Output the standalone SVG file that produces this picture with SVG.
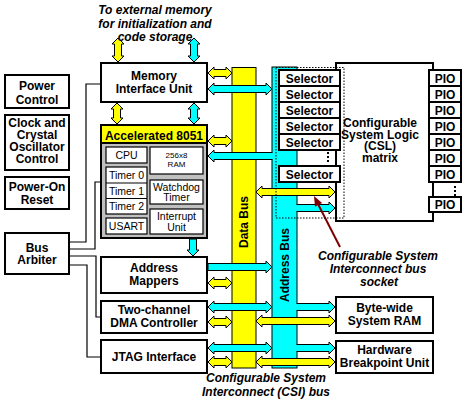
<svg xmlns="http://www.w3.org/2000/svg" width="465" height="403" viewBox="0 0 465 403">
<style>
.box{fill:#fff;stroke:#000;stroke-width:2}
.ibox{fill:#fff;stroke:#000;stroke-width:1.2}
.t{font-family:"Liberation Sans",Arial,sans-serif;font-weight:bold;font-size:12px;text-anchor:middle;fill:#000}
.sm{font-weight:normal;font-size:10.5px}
.xs{font-weight:normal;font-size:8px}
.it{font-style:italic}
.y{fill:#ff0;stroke:#000;stroke-width:1}
.c{fill:#0ff;stroke:#000;stroke-width:1}
.cf{fill:#0ff;stroke:none}
.ol{fill:none;stroke:#000;stroke-width:1}
.wire{fill:none;stroke:#000;stroke-width:1.2}
</style>
<rect width="465" height="403" fill="#fff"/>

<!-- buses -->
<g id="data-bus">
<rect class="y" x="232" y="67.5" width="24" height="300.5"/>
<text class="t" transform="translate(248.3,222) rotate(-90)">Data Bus</text>
</g>
<g id="address-bus">
<rect class="c" x="272" y="67" width="25" height="301"/>
<text class="t" transform="translate(289,265) rotate(-90)">Address Bus</text>
</g>

<!-- CSL matrix -->
<g id="csl">
<rect class="box" x="336" y="63" width="97" height="158"/>
<text class="t" x="380" y="126.5">Configurable</text>
<text class="t" x="380" y="138.5">System Logic</text>
<text class="t" x="380" y="150">(CSL)</text>
<text class="t" x="380" y="161.5">matrix</text>
</g>

<g id="connectors">
<!-- arbiter wires -->
<path class="wire" d="M69 242H86V84H101"/>
<path class="wire" d="M69 249H95V182H101"/>
<path class="wire" d="M69 256H96V317H101"/>
<path class="wire" d="M69 265H87V357H101"/>
<!-- vertical bus arrows -->
<path class="y" d="M118 38L124 44L121.5 44L121.5 56L124 56L118 62L112 56L114.5 56L114.5 44L112 44Z"/>
<path class="c" d="M194 38L200 44L197.5 44L197.5 56L200 56L194 62L188 56L190.5 56L190.5 44L188 44Z"/>
<path class="y" d="M117 103L123 109L120.5 109L120.5 118L123 118L117 124L111 118L113.5 118L113.5 109L111 109Z"/>
<path class="c" d="M194 103L200 109L197.5 109L197.5 118L200 118L194 124L188 118L190.5 118L190.5 109L188 109Z"/>
<path class="c" d="M189.5 239L196.5 239L196.5 250L199 250L193 256L187 250L189.5 250Z"/>
<!-- yellow to data bus -->
<path class="y" d="M208 73L214 67L214 69.5L226 69.5L226 67L232 73L226 79L226 76.5L214 76.5L214 79Z"/>
<path class="y" d="M208 141L214 135L214 137.5L226 137.5L226 135L232 141L226 147L226 144.5L214 144.5L214 147Z"/>
<path class="y" d="M208 283L214 277L214 279.5L226 279.5L226 277L232 283L226 289L226 286.5L214 286.5L214 289Z"/>
<path class="y" d="M208 322L214 316L214 318.5L226 318.5L226 316L232 322L226 328L226 325.5L214 325.5L214 328Z"/>
<path class="y" d="M208 362L214 356L214 358.5L226 358.5L226 356L232 362L226 368L226 365.5L214 365.5L214 368Z"/>
<!-- cyan to address bus -->
<path class="c" d="M208 89L214 83L214 85.5L266 85.5L266 83L272 89L266 95L266 92.5L214 92.5L214 95Z"/>
<path class="cf" d="M208 156L214 150L214 152.5L274 152.5L274 159.5L214 159.5L214 162Z"/>
<path class="ol" d="M272.5 152.5L214 152.5L214 150L208 156L214 162L214 159.5L272.5 159.5"/>
<path class="c" d="M208 263.5L266 263.5L266 261L272 267L266 273L266 270.5L208 270.5Z"/>
<path class="c" d="M208 307L214 301L214 303.5L266 303.5L266 301L272 307L266 313L266 310.5L214 310.5L214 313Z"/>
<path class="c" d="M208 348L214 342L214 344.5L266 344.5L266 342L272 348L266 354L266 351.5L214 351.5L214 354Z"/>
<!-- yellow over address bus -->
<path class="y" d="M256 192L262 186L262 188.5L329 188.5L329 186L335 192L329 198L329 195.5L262 195.5L262 198Z"/>
<path class="y" d="M256 321L262 315L262 317.5L329 317.5L329 315L335 321L329 327L329 324.5L262 324.5L262 327Z"/>
<path class="y" d="M256 362L262 356L262 358.5L329 358.5L329 356L335 362L329 368L329 365.5L262 365.5L262 368Z"/>
<!-- cyan from address bus -->
<path class="cf" d="M295 204.5L329 204.5L329 202L335 208L329 214L329 211.5L295 211.5Z"/>
<path class="ol" d="M296.5 204.5L329 204.5L329 202L335 208L329 214L329 211.5L296.5 211.5"/>
<path class="cf" d="M295 303.5L329 303.5L329 301L335 307L329 313L329 310.5L295 310.5Z"/>
<path class="ol" d="M296.5 303.5L329 303.5L329 301L335 307L329 313L329 310.5L296.5 310.5"/>
<path class="cf" d="M295 344.5L329 344.5L329 342L335 348L329 354L329 351.5L295 351.5Z"/>
<path class="ol" d="M296.5 344.5L329 344.5L329 342L335 348L329 354L329 351.5L296.5 351.5"/>
<!-- pointer -->
<line x1="340" y1="247" x2="318.5" y2="205" stroke="#800000" stroke-width="2"/>
<polygon points="314,196 322.1,203.1 315,206.7" fill="#800000"/>
</g>

<!-- dotted socket outline -->
<rect x="276" y="67.5" width="68" height="150.5" fill="none" stroke="#000" stroke-width="1" stroke-dasharray="1.5,1.5"/>

<g id="selectors">
<rect class="box" x="279" y="70" width="61" height="16"/>
<rect class="box" x="279" y="86" width="61" height="16"/>
<rect class="box" x="279" y="102" width="61" height="16"/>
<rect class="box" x="279" y="118" width="61" height="16"/>
<rect class="box" x="279" y="134" width="61" height="16"/>
<rect class="box" x="279" y="166" width="61" height="16"/>
<text class="t" x="309.5" y="82.5">Selector</text>
<text class="t" x="309.5" y="98.5">Selector</text>
<text class="t" x="309.5" y="114.5">Selector</text>
<text class="t" x="309.5" y="130.5">Selector</text>
<text class="t" x="309.5" y="146.5">Selector</text>
<text class="t" x="309.5" y="178.5">Selector</text>
<g fill="#000"><rect x="327" y="152" width="2" height="2"/><rect x="327" y="156" width="2" height="2"/><rect x="327" y="160" width="2" height="2"/></g>
</g>

<g id="pios">
<rect class="box" x="429" y="70" width="32" height="16"/>
<rect class="box" x="429" y="86" width="32" height="16"/>
<rect class="box" x="429" y="102" width="32" height="16"/>
<rect class="box" x="429" y="118" width="32" height="16"/>
<rect class="box" x="429" y="134" width="32" height="16"/>
<rect class="box" x="429" y="150" width="32" height="16"/>
<rect class="box" x="429" y="166" width="32" height="16"/>
<rect class="box" x="429" y="197" width="32" height="15"/>
<text class="t" x="445" y="82.5">PIO</text>
<text class="t" x="445" y="98.5">PIO</text>
<text class="t" x="445" y="114.5">PIO</text>
<text class="t" x="445" y="130.5">PIO</text>
<text class="t" x="445" y="146.5">PIO</text>
<text class="t" x="445" y="162.5">PIO</text>
<text class="t" x="445" y="178.5">PIO</text>
<text class="t" x="445" y="209">PIO</text>
<g fill="#000"><rect x="454" y="186" width="2" height="2"/><rect x="454" y="190" width="2" height="2"/><rect x="454" y="194" width="2" height="2"/></g>
</g>

<g id="power-control">
<rect class="box" x="5" y="75" width="64" height="33"/>
<text class="t" x="37" y="90">Power</text>
<text class="t" x="37" y="104">Control</text>
</g>
<g id="clock">
<rect class="box" x="5" y="115" width="64" height="55"/>
<text class="t" x="37" y="127">Clock and</text>
<text class="t" x="37" y="139">Crystal</text>
<text class="t" x="37" y="151">Oscillator</text>
<text class="t" x="37" y="163">Control</text>
</g>
<g id="power-on-reset">
<rect class="box" x="5" y="177" width="64" height="32"/>
<text class="t" x="37" y="191">Power-On</text>
<text class="t" x="37" y="203.5">Reset</text>
</g>
<g id="bus-arbiter">
<rect class="box" x="5" y="233" width="64" height="41"/>
<text class="t" x="37" y="251.5">Bus</text>
<text class="t" x="37" y="263.5">Arbiter</text>
</g>

<g id="miu">
<rect class="box" x="101" y="63" width="106" height="39"/>
<text class="t" x="154" y="80">Memory</text>
<text class="t" x="154" y="92.5">Interface Unit</text>
</g>

<g id="accel8051">
<rect x="101" y="125" width="106" height="113" fill="#c0c0c0" stroke="#000" stroke-width="2"/>
<rect x="101" y="125" width="106" height="18" fill="#ff0" stroke="#000" stroke-width="2"/>
<text class="t" x="154" y="139.5">Accelerated 8051</text>
<rect class="ibox" x="106" y="147" width="41" height="16"/>
<text class="t sm" x="126.5" y="159">CPU</text>
<rect class="ibox" x="150" y="147" width="53" height="27"/>
<text class="t xs" x="176.5" y="158">256x8</text>
<text class="t xs" x="176.5" y="166.5">RAM</text>
<rect class="ibox" x="106" y="167" width="41" height="47"/>
<line x1="106" y1="183" x2="147" y2="183" stroke="#000" stroke-width="1.2"/>
<line x1="106" y1="198.5" x2="147" y2="198.5" stroke="#000" stroke-width="1.2"/>
<text class="t sm" x="126.5" y="178.5">Timer 0</text>
<text class="t sm" x="126.5" y="194.5">Timer 1</text>
<text class="t sm" x="126.5" y="210">Timer 2</text>
<rect class="ibox" x="106" y="218" width="41" height="16"/>
<text class="t sm" x="126.5" y="230">USART</text>
<rect class="ibox" x="150" y="180" width="53" height="24"/>
<text class="t sm" x="176.5" y="190.5">Watchdog</text>
<text class="t sm" x="176.5" y="201">Timer</text>
<rect class="ibox" x="150" y="209" width="53" height="25"/>
<text class="t sm" x="176.5" y="220">Interrupt</text>
<text class="t sm" x="176.5" y="230.5">Unit</text>
</g>

<g id="address-mappers">
<rect class="box" x="101" y="257" width="106" height="36"/>
<text class="t" x="154" y="272">Address</text>
<text class="t" x="154" y="284.5">Mappers</text>
</g>
<g id="dma">
<rect class="box" x="101" y="301" width="106" height="32"/>
<text class="t" x="154" y="314">Two-channel</text>
<text class="t" x="154" y="327">DMA Controller</text>
</g>
<g id="jtag">
<rect class="box" x="101" y="340" width="106" height="33"/>
<text class="t" x="154" y="360.5">JTAG Interface</text>
</g>
<g id="ram">
<rect class="box" x="336" y="297" width="97" height="36"/>
<text class="t" x="384.5" y="312">Byte-wide</text>
<text class="t" x="384.5" y="325">System RAM</text>
</g>
<g id="hbu">
<rect class="box" x="336" y="341" width="97" height="32"/>
<text class="t" x="384.5" y="353.5">Hardware</text>
<text class="t" x="384.5" y="366.5">Breakpoint Unit</text>
</g>

<g id="captions">
<text class="t it" x="155" y="14">To external memory</text>
<text class="t it" x="155" y="28">for initialization and</text>
<text class="t it" x="155" y="41">code storage</text>
<text class="t it" x="378" y="260">Configurable System</text>
<text class="t it" x="378" y="273">Interconnect bus</text>
<text class="t it" x="379" y="286">socket</text>
<text class="t it" x="266" y="382">Configurable System</text>
<text class="t it" x="266" y="395.5">Interconnect (CSI) bus</text>
</g>
</svg>
